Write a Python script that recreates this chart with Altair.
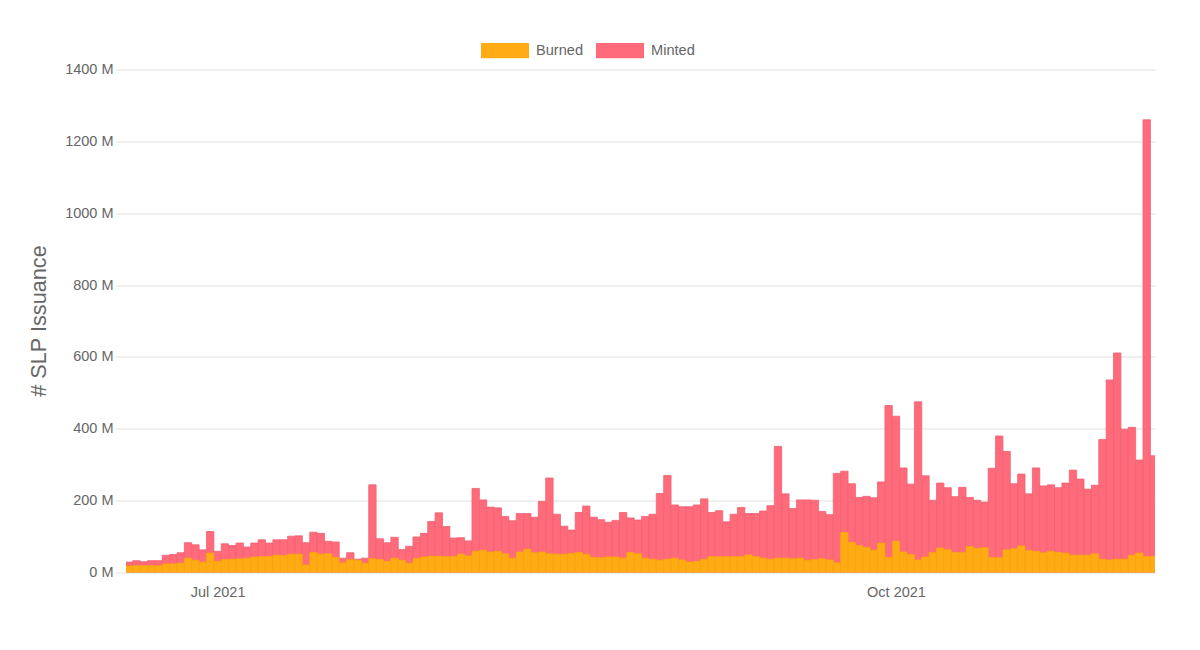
"""Daily SLP burned and minted, recreated in altair."""

import altair as alt
import pandas as pd


FIG_WIDTH = 1029
FIG_HEIGHT = 503
FONT = 'Liberation Sans'
TEXT_COLOUR = '#666666'
GRID_COLOUR = '#e0e0e0'
BURNED_COLOUR = '#ffac14'
MINTED_COLOUR = '#ff6b7a'

START_DATE = '2021-06-19'
Y_TICKS = [0, 200, 400, 600, 800, 1000, 1200, 1400]

# millions of SLP, one value a day
BURNED = [
    18, 19, 19, 19, 19, 24, 24, 26, 40, 34, 29, 54, 31, 36, 37, 38, 40, 43, 44, 44,
    48, 47, 51, 51, 21, 56, 51, 52, 42, 27, 36, 34, 26, 38,
    36, 31, 40, 34, 26, 39, 43, 45, 45, 44, 44, 51, 46, 59, 62, 57, 59, 52, 40, 57,
    65, 55, 57, 52, 51, 51, 53, 56, 51, 42, 41, 43, 43, 40, 56, 52,
    40, 37, 34, 37, 40, 35, 29, 31, 37, 44, 44, 44, 44, 44, 49, 44, 40, 37, 40, 40,
    38, 40, 34, 36, 38, 35, 27, 111, 84, 75, 70, 62, 82,
    42, 87, 57, 50, 35, 43, 56, 68, 63, 56, 56, 72, 67, 69, 42, 41, 63, 66, 74, 61,
    59, 55, 59, 56, 54, 48, 48, 48, 52, 37, 35, 37, 37, 48, 54, 44, 45,
]
MINTED = [
    29, 33, 30, 33, 33, 48, 50, 55, 83, 77, 63, 114, 59, 80, 75, 82, 71, 82, 91, 82,
    91, 91, 101, 102, 83, 112, 109, 87, 85, 40, 55, 37, 40, 244,
    94, 83, 98, 64, 73, 99, 109, 142, 166, 128, 96, 97, 88, 234, 202, 182, 180, 156,
    144, 164, 164, 154, 198, 263, 162, 129, 118, 167, 185, 154, 147, 140, 145, 167,
    152, 146,
    156, 162, 220, 270, 188, 183, 183, 188, 205, 167, 172, 141, 162, 181, 164, 164,
    171, 186, 351, 219, 178, 202, 202, 201, 170, 161, 276, 282, 247, 209, 212, 208, 252,
    465, 435, 291, 246, 475, 269, 201, 249, 236, 211, 237, 209, 201, 196, 290, 380,
    337, 247, 274, 219, 291, 241, 244, 236, 249, 285, 260, 232, 243, 370, 536, 611,
    399, 404, 313, 1260, 325,
]

days = pd.date_range(START_DATE, periods=len(MINTED), freq='D')
chart_data = pd.DataFrame({
    'start': (days - pd.Timedelta(hours=12)).strftime('%Y-%m-%dT%H:%M:%S'),
    'end': (days + pd.Timedelta(hours=12)).strftime('%Y-%m-%dT%H:%M:%S'),
    'burned': BURNED,
    'minted': MINTED,
})

x_scale = alt.Scale(domain=[
    alt.DateTime(year=2021, month='jun', date=18, hours=14),
    alt.DateTime(year=2021, month='nov', date=5, hours=3),
])
x_axis = alt.Axis(
    title=None,
    values=[
        alt.DateTime(year=2021, month='jul', date=1),
        alt.DateTime(year=2021, month='oct', date=1),
    ],
    format='%b %Y',
    grid=False,
    ticks=False,
    domain=False,
    labelPadding=13,
)
y_axis = alt.Axis(
    title='# SLP Issuance',
    values=Y_TICKS,
    labelExpr="datum.value + ' M'",
    grid=True,
    gridColor=GRID_COLOUR,
    tickColor=GRID_COLOUR,
    tickSize=11,
    domain=False,
    labelPadding=2,
    titleFontSize=21.7,
    titleFontWeight='normal',
    titleX=-76,
    titleY=251,
)
y_scale = alt.Scale(domain=[0, 1400], nice=False, zero=True)
colour = alt.Scale(domain=['Burned', 'Minted'], range=[BURNED_COLOUR, MINTED_COLOUR])
legend = alt.Legend(
    title=None,
    orient='none',
    legendX=355,
    legendY=-43,
    direction='horizontal',
    columns=2,
    columnPadding=12,
    labelOffset=7,
    symbolType='M -1 -0.32 H 1 V 0.32 H -1 Z',
    symbolSize=2304,
    symbolOpacity=1,
    symbolStrokeWidth=0,
    labelFontSize=14.6,
    labelColor=TEXT_COLOUR,
    labelFont=FONT,
)

minted = alt.Chart(chart_data).mark_bar(
    clip=True, stroke='#ef6272', strokeWidth=0.8,
).encode(
    x=alt.X('start:T', scale=x_scale, axis=x_axis),
    x2='end:T',
    y=alt.Y('minted:Q', stack=None, scale=y_scale, axis=y_axis),
    y2=alt.datum(0),
    color=alt.Color('series:N', scale=colour, legend=legend),
).transform_calculate(series="'Minted'")

burned = alt.Chart(chart_data).mark_bar(
    clip=True, stroke='#f7a60f', strokeWidth=0.8,
).encode(
    x=alt.X('start:T', scale=x_scale, axis=x_axis),
    x2='end:T',
    y=alt.Y('burned:Q', stack=None, scale=y_scale, axis=y_axis),
    y2=alt.datum(0),
    color=alt.Color('series:N', scale=colour, legend=legend),
).transform_calculate(series="'Burned'")

chart = alt.layer(minted, burned).properties(
    width=FIG_WIDTH,
    height=FIG_HEIGHT,
    autosize=alt.AutoSizeParams(type='none'),
    padding={'left': 118, 'top': 61.5, 'right': 37, 'bottom': 70},
).configure_axis(
    labelFont=FONT,
    titleFont=FONT,
    labelFontSize=14.5,
    labelColor=TEXT_COLOUR,
    titleColor=TEXT_COLOUR,
).configure_view(
    stroke=None,
)

chart.save('out.html', embed_options={'renderer': 'svg', 'actions': False})
